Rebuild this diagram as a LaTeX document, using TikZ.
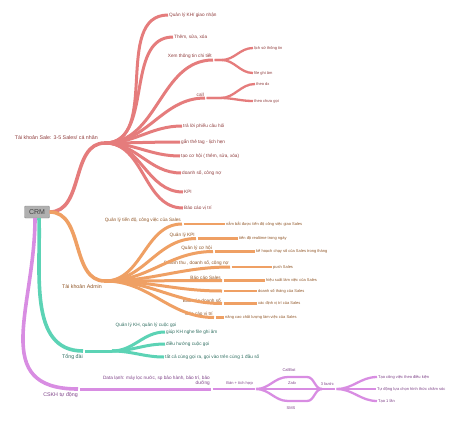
\documentclass[tikz,border=0pt]{standalone}
\usepackage{fontspec}
\setmainfont{Liberation Sans}
\usepackage{tikz}
\usetikzlibrary{positioning}
\definecolor{mmred}{HTML}{E57C7C}
\definecolor{mmredtxt}{HTML}{8E3B3B}
\definecolor{mmorange}{HTML}{EFA064}
\definecolor{mmorangetxt}{HTML}{8F5526}
\definecolor{mmteal}{HTML}{5CD3B5}
\definecolor{mmtealtxt}{HTML}{2F6E60}
\definecolor{mmviolet}{HTML}{D88DE2}
\definecolor{mmviolettxt}{HTML}{7E4288}
\definecolor{mmgray}{HTML}{B0B0B0}
\tikzset{
  rootbox/.style={draw=mmgray!80!black,fill=mmgray,rounded corners=1pt,minimum width=25pt,minimum height=12pt,inner sep=1pt,font=\fontsize{7}{8}\selectfont,text=black!75},
  bigtxt/.style={font=\fontsize{5.3}{6}\selectfont,inner sep=1pt},
  midtxt/.style={font=\fontsize{4.7}{5.6}\selectfont,inner sep=1pt},
  smalltxt/.style={font=\fontsize{4}{4.8}\selectfont,inner sep=1pt},
  trunkline/.style={line width=3.6pt},
  branchline/.style={line width=3pt},
  twigline/.style={line width=2.3pt},
}

\begin{document}
\begin{tikzpicture}[x=1pt,y=-1pt]
  \useasboundingbox (0,0) rectangle (474,421);
  \node[rootbox] (crm) at (37,212) {CRM};

  % Tai khoan Sale
  \coordinate (sale) at (105,143);
  \node[bigtxt,text=mmredtxt,anchor=south east] (saleL) at (99,141) {Tài khoản Sale: 3-5 Sales/ cá nhân};
  \draw[trunkline,mmred] (crm.east) to[out=0,in=180] (sale);
  \node[midtxt,text=mmredtxt,anchor=west] (r1) at (168,15) {Quản lý KH/ giao nhận};
  \node[midtxt,text=mmredtxt,anchor=west] (r2) at (173,37) {Thêm, sửa, xóa};
  \node[midtxt,text=mmredtxt,anchor=south east] (r3) at (213,60) {Xem thông tin chi tiết};
  \node[midtxt,text=mmredtxt,anchor=south east] (r4) at (205,98) {call};
  \node[midtxt,text=mmredtxt,anchor=west] (r5) at (182,126) {trả lời phiếu câu hỏi};
  \node[midtxt,text=mmredtxt,anchor=west] (r6) at (180,142) {gắn thẻ tag - lịch hẹn};
  \node[midtxt,text=mmredtxt,anchor=west] (r7) at (180,156) {tạo cơ hội ( thêm, sửa, xóa)};
  \node[midtxt,text=mmredtxt,anchor=west] (r8) at (181,173) {doanh số, công nợ};
  \node[midtxt,text=mmredtxt,anchor=west] (r9) at (183,192) {KPI};
  \node[midtxt,text=mmredtxt,anchor=west] (r10) at (183,208) {Báo cáo vị trí};
  \draw[branchline,mmred] (sale) to[out=0,in=180] (r1.west);
  \draw[branchline,mmred] (sale) to[out=0,in=180] (r2.west);
  \draw[branchline,mmred] (sale) to[out=0,in=180] (r3.south east);
  \draw[branchline,mmred] (sale) to[out=0,in=180] (r4.south east);
  \draw[branchline,mmred] (sale) to[out=0,in=180] (r5.west);
  \draw[branchline,mmred] (sale) to[out=0,in=180] (r6.west);
  \draw[branchline,mmred] (sale) to[out=0,in=180] (r7.west);
  \draw[branchline,mmred] (sale) to[out=0,in=180] (r8.west);
  \draw[branchline,mmred] (sale) to[out=0,in=180] (r9.west);
  \draw[branchline,mmred] (sale) to[out=0,in=180] (r10.west);
  \node[smalltxt,text=mmredtxt,anchor=west] (r31) at (253,48) {lịch sử thông tin};
  \node[smalltxt,text=mmredtxt,anchor=west] (r32) at (253,73) {file ghi âm};
  \node[smalltxt,text=mmredtxt,anchor=west] (r41) at (255,84) {theo dx};
  \node[smalltxt,text=mmredtxt,anchor=west] (r42) at (253,101) {theo chưa gọi};
  \draw[twigline,mmred] ([xshift=1.5pt]r3.south east) -- ++(7,0) to[out=0,in=180] (r31.west);
  \draw[twigline,mmred] ([xshift=1.5pt]r3.south east) -- ++(7,0) to[out=0,in=180] (r32.west);
  \draw[twigline,mmred] ([xshift=1.5pt]r4.south east) -- ++(14,0) to[out=0,in=180] (r41.west);
  \draw[twigline,mmred] ([xshift=1.5pt]r4.south east) -- ++(14,0) to[out=0,in=180] (r42.west);

  % Tai khoan Admin
  \coordinate (admin) at (105,281);
  \node[bigtxt,text=mmorangetxt,anchor=north east] (adminL) at (103,283) {Tài khoản Admin};
  \draw[trunkline,mmorange] (crm.east) to[out=0,in=180] (admin);
  \node[midtxt,text=mmorangetxt,anchor=south east] (o1) at (182,224) {Quản lý tiến độ, công việc của Sales};
  \node[midtxt,text=mmorangetxt,anchor=south east] (o2) at (196,238.5) {Quản lý KPI};
  \node[midtxt,text=mmorangetxt,anchor=south east] (o3) at (213,251.5) {Quản lý cơ hội};
  \node[midtxt,text=mmorangetxt,anchor=south east] (o4) at (230,267) {Doanh thu , doanh số, công nợ};
  \node[midtxt,text=mmorangetxt,anchor=south east] (o5) at (222,280.5) {Báo cáo Sales};
  \coordinate (o6) at (222,291);
  \node[midtxt,text=mmorangetxt,anchor=south east] (o7) at (222,303.5) {Báo cáo doanh số};
  \node[midtxt,text=mmorangetxt,anchor=south east] (o8) at (214,317.5) {Báo cáo vị trí};
  \draw[branchline,mmorange] (admin) to[out=0,in=180] (o1.south east);
  \draw[branchline,mmorange] (admin) to[out=0,in=180] (o2.south east);
  \draw[branchline,mmorange] (admin) to[out=0,in=180] (o3.south east);
  \draw[branchline,mmorange] (admin) to[out=0,in=180] (o4.south east);
  \draw[branchline,mmorange] (admin) to[out=0,in=180] (o5.south east);
  \draw[branchline,mmorange] (admin) to[out=0,in=180] (o6);
  \draw[branchline,mmorange] (admin) to[out=0,in=180] (o7.south east);
  \draw[branchline,mmorange] (admin) to[out=0,in=180] (o8.south east);
  \node[smalltxt,text=mmorangetxt,anchor=west] (o1x) at (225,224) {nắm bắt được tiến độ công việc giao Sales};
  \node[smalltxt,text=mmorangetxt,anchor=west] (o2x) at (238,238.5) {tiến độ realtime trong ngày};
  \node[smalltxt,text=mmorangetxt,anchor=west] (o3x) at (255,251.5) {kế hoạch chạy số của Sales trong tháng};
  \node[smalltxt,text=mmorangetxt,anchor=west] (o4x) at (272,267) {push Sales};
  \node[smalltxt,text=mmorangetxt,anchor=west] (o5x) at (265,280.5) {hiệu suất làm việc của Sales};
  \node[smalltxt,text=mmorangetxt,anchor=west] (o6x) at (257,291) {doanh số tháng của Sales};
  \node[smalltxt,text=mmorangetxt,anchor=west] (o7x) at (257,303.5) {xác định vị trí của Sales};
  \node[smalltxt,text=mmorangetxt,anchor=west] (o8x) at (224,317.5) {nâng cao chất lượng làm việc của Sales};
  \draw[twigline,mmorange] ([xshift=1.5pt]o1.south east) -- (o1x.west);
  \draw[twigline,mmorange] ([xshift=1.5pt]o2.south east) -- (o2x.west);
  \draw[twigline,mmorange] ([xshift=1.5pt]o3.south east) -- (o3x.west);
  \draw[twigline,mmorange] ([xshift=1.5pt]o4.south east) -- (o4x.west);
  \draw[twigline,mmorange] ([xshift=1.5pt]o5.south east) -- (o5x.west);
  \draw[twigline,mmorange] ([xshift=1.5pt]o6) -- (o6x.west);
  \draw[twigline,mmorange] ([xshift=1.5pt]o7.south east) -- (o7x.west);
  \draw[twigline,mmorange] ([xshift=1.5pt]o8.south east) -- (o8x.west);

  % Tong dai
  \coordinate (tong) at (83,351);
  \node[bigtxt,text=mmtealtxt,anchor=north east] (tongL) at (84,353) {Tổng đài};
  \draw[trunkline,mmteal] ([xshift=2pt]crm.south) to[out=-88,in=180] (tong);
  \coordinate (qlkh) at (112,351);
  \node[midtxt,text=mmtealtxt] (qlkhL) at (146,325) {Quản lý KH, quản lý cuộc gọi};
  \draw[branchline,mmteal] ([xshift=1.5pt]tong) -- (qlkh);
  \node[midtxt,text=mmtealtxt,anchor=west] (t1) at (165,332) {giúp KH nghe file ghi âm};
  \node[midtxt,text=mmtealtxt,anchor=west] (t2) at (165,344) {điều hướng cuộc gọi};
  \node[midtxt,text=mmtealtxt,anchor=west] (t3) at (164,357) {tất cả cùng gọi ra, gọi vào trên cùng 1 đầu số};
  \draw[branchline,mmteal] (qlkh) to[out=0,in=180] (t1.west);
  \draw[branchline,mmteal] (qlkh) to[out=0,in=180] (t2.west);
  \draw[branchline,mmteal] (qlkh) to[out=0,in=180] (t3.west);

  % CSKH tu dong
  \coordinate (cskh) at (78,389);
  \node[bigtxt,text=mmviolettxt,anchor=north east] (cskhL) at (79,391) {CSKH tự động};
  \draw[trunkline,mmviolet] ([xshift=-2pt]crm.south) to[out=-90,in=180,looseness=1.3] (cskh);
  \coordinate (data) at (211,389);
  \node[midtxt,text=mmviolettxt,anchor=south east,align=right] (dataL) at (211,387) {Data lạnh: máy lọc nước, sp bảo hành, bảo trì, bảo\\dưỡng};
  \draw[branchline,mmviolet] ([xshift=1.5pt]cskh) -- (data);
  \coordinate (ban) at (255,389);
  \node[smalltxt,text=mmviolettxt,anchor=south east] (banL) at (254,387) {Bán + tích hợp};
  \draw[twigline,mmviolet] ([xshift=1.5pt]data) -- (ban);
  \coordinate (buoc) at (322,389);
  \coordinate (cbA) at (288,377);
  \coordinate (cbB) at (307,377);
  \coordinate (smsA) at (288,401);
  \coordinate (smsB) at (307,401);
  \node[smalltxt,text=mmviolettxt] (callbot) at (289,370) {CallBot};
  \node[smalltxt,text=mmviolettxt] (zalo) at (292,383) {Zalo};
  \node[smalltxt,text=mmviolettxt] (sms) at (291,408) {SMS};
  \draw[twigline,mmviolet] ([xshift=1pt]ban) to[out=0,in=180] (cbA) -- (cbB) to[out=0,in=180] (buoc);
  \draw[twigline,mmviolet] ([xshift=1pt]ban) -- (buoc);
  \draw[twigline,mmviolet] ([xshift=1pt]ban) to[out=0,in=180] (smsA) -- (smsB) to[out=0,in=180] (buoc);
  \coordinate (buocE) at (335,389);
  \node[smalltxt,text=mmviolettxt,anchor=south east] (buocL) at (335,387) {3 bước};
  \draw[twigline,mmviolet] (buoc) -- (buocE);
  \node[smalltxt,text=mmviolettxt,anchor=west] (v1) at (377,377) {Tạo công việc theo điều kiện};
  \node[smalltxt,text=mmviolettxt,anchor=west] (v2) at (376,389) {Tự động lựa chọn hình thức chăm sóc};
  \node[smalltxt,text=mmviolettxt,anchor=west] (v3) at (377,401) {Tạo 1 lần};
  \draw[twigline,mmviolet] ([xshift=1.5pt]buocE) to[out=0,in=180] (v1.west);
  \draw[twigline,mmviolet] ([xshift=1.5pt]buocE) -- (v2.west);
  \draw[twigline,mmviolet] ([xshift=1.5pt]buocE) to[out=0,in=180] (v3.west);
\end{tikzpicture}
\end{document}
